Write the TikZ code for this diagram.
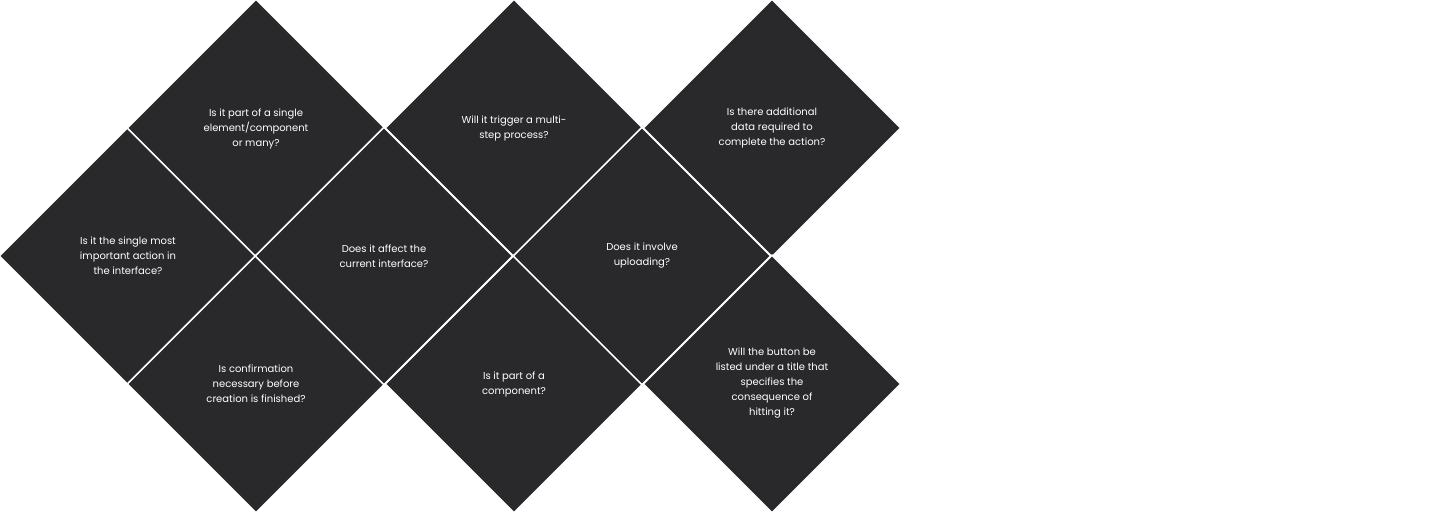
\documentclass[tikz,border=0pt]{standalone}
\usepackage{fontspec}
\setmainfont{Poppins}
\usetikzlibrary{shapes.geometric}
\begin{document}
\begin{tikzpicture}[x=1pt,y=-1pt,
  dia/.style={diamond,aspect=1,minimum width=258pt,minimum height=258pt,inner sep=0pt,
    fill=black!84!blue!70!gray,fill=darkbox,draw=white,line width=1.6pt},
  lbl/.style={text=white,align=center,font=\fontsize{10}{15}\selectfont}]
\definecolor{darkbox}{HTML}{29282A}
\useasboundingbox (0,0) rectangle (1456,513);
\node[dia] (d1) at (128,256) {};
\node[dia] (d2) at (256,128) {};
\node[dia] (d3) at (256,384) {};
\node[dia] (d4) at (384,256) {};
\node[dia] (d5) at (514,128) {};
\node[dia] (d6) at (514,384) {};
\node[dia] (d7) at (642,256) {};
\node[dia] (d8) at (772,128) {};
\node[dia] (d9) at (772,384) {};
\node[lbl] (t1) at (d1) {Is it the single most\\important action in\\the interface?};
\node[lbl] (t2) at ([yshift=-1]d2) {Is it part of a single\\element/component\\or many?};
\node[lbl] (t3) at (d3) {Is confirmation\\necessary before\\creation is finished?};
\node[lbl] (t4) at (d4) {Does it affect the\\current interface?};
\node[lbl] (t5) at (d5) {Will it trigger a multi-\\step process?};
\node[lbl] (t6) at (d6) {Is it part of a\\component?};
\node[lbl] (t7) at (d7) {Does it involve\\uploading?};
\node[lbl] (t8) at (d8) {Is there additional\\data required to\\complete the action?};
\node[lbl] (t9) at ([yshift=1]d9) {Will the button be\\listed under a title that\\specifies the\\consequence of\\hitting it?};
\end{tikzpicture}
\end{document}
